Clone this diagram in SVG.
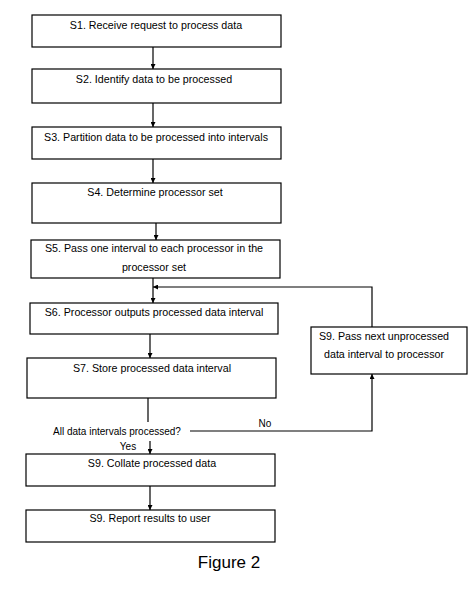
<svg xmlns="http://www.w3.org/2000/svg" width="474" height="597" viewBox="0 0 474 597">
<defs>
<style>
.box{fill:#fff;stroke:#000;stroke-width:1.2}
.t{font-family:"Liberation Sans",Arial,sans-serif;font-size:10.7px;fill:#000;text-anchor:middle}
.c{fill:none;stroke:#000;stroke-width:1.2}
</style>
<marker id="ah" viewBox="0 0 10 10" refX="10" refY="5" markerWidth="5" markerHeight="5" orient="auto" markerUnits="userSpaceOnUse">
<path d="M0,0 L10,5 L0,10 Z" fill="#000"/>
</marker>
</defs>
<rect width="474" height="597" fill="#fff"/>
<g id="connectors">
<line class="c" x1="153" y1="47" x2="153" y2="69" marker-end="url(#ah)"/>
<line class="c" x1="153" y1="103" x2="153" y2="127" marker-end="url(#ah)"/>
<line class="c" x1="153" y1="159" x2="153" y2="183" marker-end="url(#ah)"/>
<line class="c" x1="156" y1="223" x2="156" y2="240" marker-end="url(#ah)"/>
<line class="c" x1="153" y1="278" x2="153" y2="303" marker-end="url(#ah)"/>
<polyline class="c" points="372,327 372,287 153,287" marker-end="url(#ah)"/>
<line class="c" x1="150" y1="334" x2="150" y2="358" marker-end="url(#ah)"/>
<line class="c" x1="148" y1="398" x2="148" y2="422"/>
<polyline class="c" points="190,431 372,431 372,374" marker-end="url(#ah)"/>
<line class="c" x1="150" y1="441" x2="150" y2="454" marker-end="url(#ah)"/>
<line class="c" x1="150" y1="486" x2="150" y2="510" marker-end="url(#ah)"/>
</g>
<g id="s1"><rect class="box" x="32" y="15" width="249" height="32"/><text class="t" x="156" y="29">S1. Receive request to process data</text></g>
<g id="s2"><rect class="box" x="32" y="69" width="249" height="34"/><text class="t" x="154" y="83">S2. Identify data to be processed</text></g>
<g id="s3"><rect class="box" x="32" y="127" width="249" height="32"/><text class="t" x="156" y="141">S3. Partition data to be processed into intervals</text></g>
<g id="s4"><rect class="box" x="32" y="183" width="249" height="40"/><text class="t" x="155" y="196">S4. Determine processor set</text></g>
<g id="s5"><rect class="box" x="31" y="240" width="249" height="38"/><text class="t" x="154" y="252">S5. Pass one interval to each processor in the</text><text class="t" x="154" y="271">processor set</text></g>
<g id="s6"><rect class="box" x="30" y="303" width="248" height="31"/><text class="t" x="154" y="316">S6. Processor outputs processed data interval</text></g>
<g id="s7"><rect class="box" x="27" y="358" width="249" height="40"/><text class="t" x="152" y="372">S7. Store processed data interval</text></g>
<g id="s9pass"><rect class="box" x="311" y="327" width="156" height="47"/><text class="t" x="384" y="340">S9. Pass next unprocessed</text><text class="t" x="384" y="358">data interval to processor</text></g>
<g id="decision"><text class="t" x="117" y="435" style="font-size:10px">All data intervals processed?</text><text class="t" x="128" y="450" style="font-size:10px">Yes</text><text class="t" x="265" y="427" style="font-size:10px">No</text></g>
<g id="s9collate"><rect class="box" x="26" y="454" width="249" height="32"/><text class="t" x="152" y="467">S9. Collate processed data</text></g>
<g id="s9report"><rect class="box" x="26" y="510" width="249" height="32"/><text class="t" x="150" y="522">S9. Report results to user</text></g>
<text class="t" x="229" y="568" style="font-size:17px">Figure 2</text>
</svg>
